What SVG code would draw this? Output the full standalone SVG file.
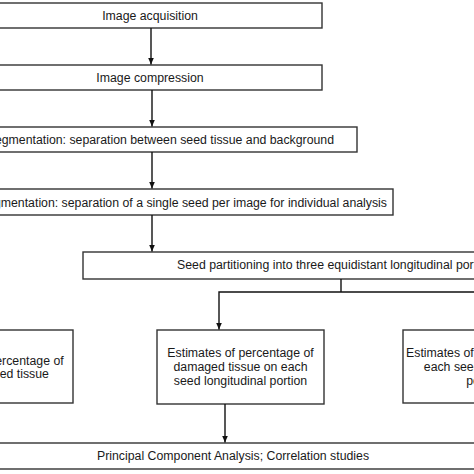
<svg xmlns="http://www.w3.org/2000/svg" width="474" height="474" viewBox="0 0 474 474">
<defs>
<marker id="ah" markerWidth="8" markerHeight="8" refX="7" refY="4" orient="auto" markerUnits="userSpaceOnUse">
<path d="M0,1 L7,4 L0,7 Z" fill="#111"/>
</marker>
<style>
.box{fill:#fff;stroke:#333;stroke-width:1.4}
.t{font-family:"Liberation Sans",Arial,sans-serif;font-size:12.3px;fill:#1a1a1a}
.c{text-anchor:middle}
.e{text-anchor:end}
.ln{fill:none;stroke:#111;stroke-width:1.4}
</style>
</defs>
<rect width="474" height="474" fill="#fff"/>
<g id="n1"><rect class="box" x="-22" y="3" width="344" height="25"/><text class="t c" x="150" y="20">Image acquisition</text></g>
<g id="n2"><rect class="box" x="-22" y="65" width="344" height="25"/><text class="t c" x="150" y="82">Image compression</text></g>
<g id="n3"><rect class="box" x="-60" y="127" width="417" height="25"/><text class="t e" x="334" y="144">Segmentation: separation between seed tissue and background</text></g>
<g id="n4"><rect class="box" x="-90" y="189" width="483" height="26"/><text class="t e" x="387" y="206.5">Segmentation: separation of a single seed per image for individual analysis</text></g>
<g id="n5"><rect class="box" x="83" y="252" width="420" height="27"/><text class="t" x="177" y="268.5">Seed partitioning into three equidistant longitudinal portions</text></g>
<g id="n6"><rect class="box" x="-94" y="330" width="167" height="73"/><text class="t c" x="-9.5" y="365">Estimates of percentage of</text><text class="t c" x="-9.5" y="378">damaged seed tissue</text></g>
<g id="n7"><rect class="box" x="157" y="330" width="167" height="74"/><text class="t c" x="240.5" y="357">Estimates of percentage of</text><text class="t c" x="240.5" y="371">damaged tissue on each</text><text class="t c" x="240.5" y="384.5">seed longitudinal portion</text></g>
<g id="n8"><rect class="box" x="403" y="330" width="164" height="73"/><text class="t c" x="485" y="357">Estimates of damaged tissue</text><text class="t c" x="485" y="371">each seed longitudinal</text><text class="t c" x="485" y="384.5">portion</text></g>
<g id="n9"><rect class="box" x="-10" y="443" width="494" height="26"/><text class="t" x="97" y="460">Principal Component Analysis; Correlation studies</text></g>
<g id="connectors">
<line class="ln" x1="151" y1="28" x2="151" y2="64.5" marker-end="url(#ah)"/>
<line class="ln" x1="152" y1="90" x2="152" y2="126.5" marker-end="url(#ah)"/>
<line class="ln" x1="152" y1="152" x2="152" y2="188.5" marker-end="url(#ah)"/>
<line class="ln" x1="152" y1="215" x2="152" y2="251.5" marker-end="url(#ah)"/>
<polyline class="ln" points="341,279 341,292"/>
<polyline class="ln" points="480,292 219,292 219,329.5" marker-end="url(#ah)"/>
<line class="ln" x1="225" y1="404" x2="225" y2="442.5" marker-end="url(#ah)"/>
</g>
</svg>
